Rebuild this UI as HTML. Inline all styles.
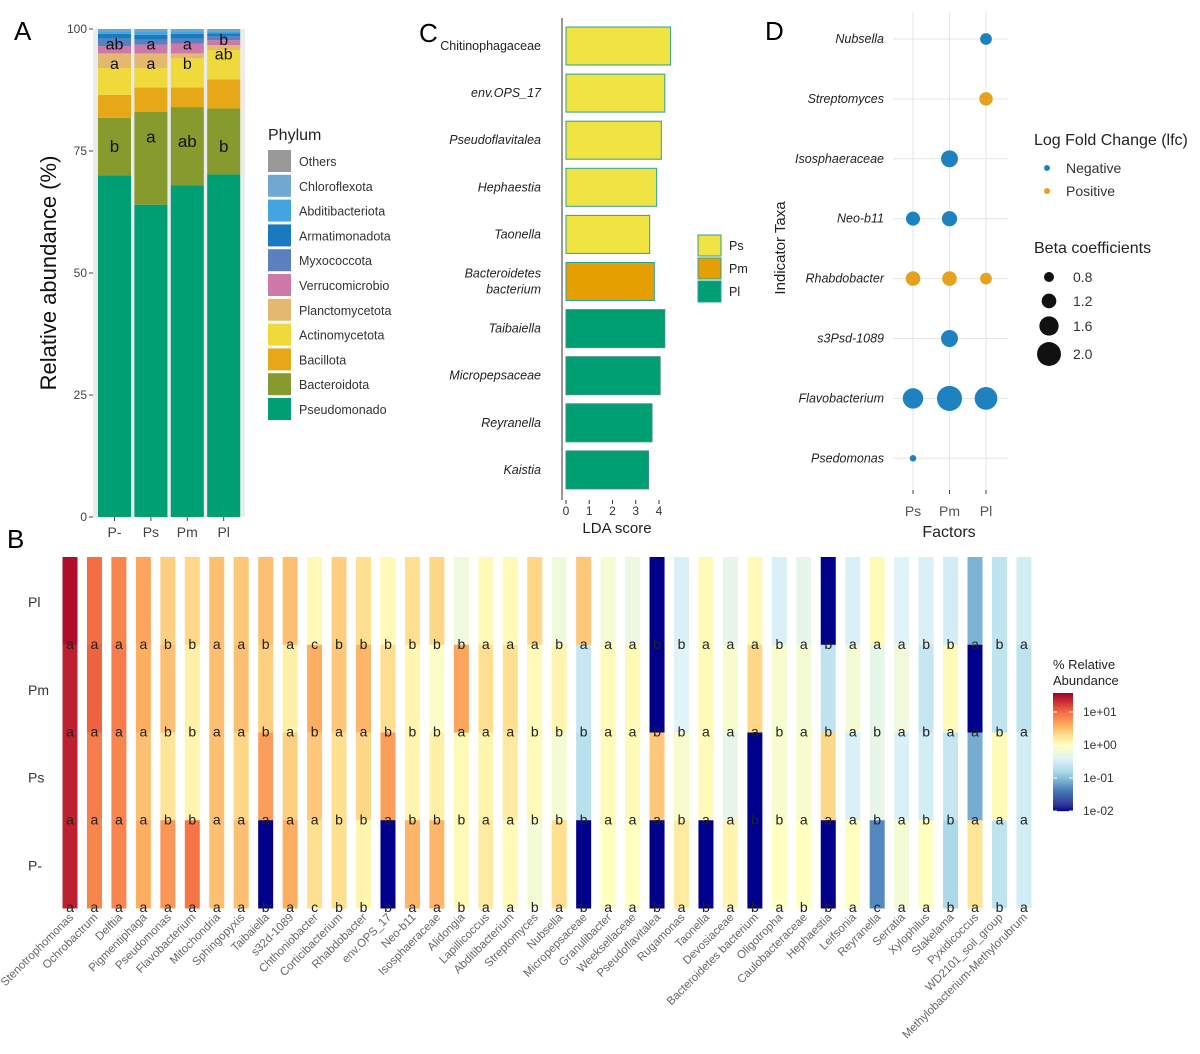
<!DOCTYPE html>
<html><head><meta charset="utf-8"><style>
body{margin:0;background:#fff;}
svg{display:block;font-family:"Liberation Sans",Arial,sans-serif;}
</style></head><body>
<svg id="s" width="1200" height="1054" viewBox="0 0 1200 1054">
<rect width="1200" height="1054" fill="#fff"/>
<text x="14" y="40" font-size="26">A</text>
<text x="7" y="548" font-size="26">B</text>
<text x="419" y="42" font-size="26">C</text>
<text x="765" y="40" font-size="26">D</text>
<g id="A"></g>
<g id="B"></g>
<g id="C"></g>
<g id="D"></g>
</svg>
<script>
const NS="http://www.w3.org/2000/svg";
function mk(p,t,a,txt){const e=document.createElementNS(NS,t);for(const k in a)e.setAttribute(k,a[k]);if(txt!==undefined)e.textContent=txt;p.appendChild(e);return e;}

// ---------- Panel A data ----------
const aGroups=["P-","Ps","Pm","Pl"];
const aPhyla=["Pseudomonadota","Bacteroidota","Bacillota","Actinomycetota","Planctomycetota","Verrucomicrobio","Myxococcota","Armatimonadota","Abditibacteriota","Chloroflexota","Others"];
const aColors=["#009e73","#869a2e","#e6a817","#efd93b","#e3b86f","#cc79a7","#5b7fbf","#1a7abf","#42a5e0","#6fa8d0","#999999"];
const aPseudo=[70,64,68,70.2];
const aBacteroid=[11.8,19,16,13.5];
const aBacillota=[4.7,5,4,6];
const aActino=[5.5,4,6,6];
const aPlancto=[3,3,1,1];
const aVerru=[1.5,1.8,2,1];
const aMyxo=[1.5,1,1,0.8];
const aArmat=[1,1,1,0.6];
const aAbdit=[0.5,0.7,0.5,0.4];
const aChloro=[0.3,0.3,0.3,0.3];
const aOthers=[0.2,0.2,0.2,0.2];
const aSeries=[aPseudo,aBacteroid,aBacillota,aActino,aPlancto,aVerru,aMyxo,aArmat,aAbdit,aChloro,aOthers];
const aTicks=[0,25,50,75,100];
const aLetters=[["b","a","ab","b"],["a","a","b","ab"],["ab","a","a","b"]];
const aLetterY=[[76,78,77,76],[93,93,93,95],[97,97,97,98]];

(function(){
 const g=document.getElementById("A");
 const y=v=>517-v*4.88;
 const bx=i=>98+i*36.4, bw=33;
 mk(g,"rect",{x:93,y:29,width:152,height:488,fill:"#ebebeb"});
 aTicks.forEach(t=>{mk(g,"line",{x1:89,x2:93,y1:y(t),y2:y(t),stroke:"#444"});
   const e=mk(g,"text",{x:87,y:y(t)+4,"text-anchor":"end","font-size":12,fill:"#444"},t);
   });
 aGroups.forEach((gr,i)=>{
   let cum=0;
   aSeries.forEach((s,k)=>{const r=mk(g,"rect",{x:bx(i),y:y(cum+s[i]),width:bw,height:s[i]*4.88,fill:aColors[k]});
     cum+=s[i];});
   mk(g,"line",{x1:bx(i)+bw/2,x2:bx(i)+bw/2,y1:517,y2:521,stroke:"#444"});
   const t=mk(g,"text",{x:bx(i)+bw/2,y:537,"text-anchor":"middle","font-size":14,fill:"#444"},gr);
   
   aLetters.forEach((L,j)=>{const e=mk(g,"text",{x:bx(i)+bw/2,y:y(aLetterY[j][i])+6,"text-anchor":"middle","font-size":j==0?17:16,fill:"#111"},L[i]);
     });
 });
 const yt=mk(g,"text",{x:0,y:0,transform:"translate(56,273) rotate(-90)","text-anchor":"middle","font-size":22,fill:"#111"},"Relative abundance (%)");
 
 const lt=mk(g,"text",{x:268,y:140,"font-size":16,fill:"#222"},"Phylum");
 
 const legOrder=["Others","Chloroflexota","Abditibacteriota","Armatimonadota","Myxococcota","Verrucomicrobio","Planctomycetota","Actinomycetota","Bacillota","Bacteroidota","Pseudomonado"];
 legOrder.forEach((n,i)=>{const k=10-i;
   const r=mk(g,"rect",{x:268,y:150+i*24.8,width:23,height:22,fill:aColors[k]});
   
   const t=mk(g,"text",{x:299,y:166+i*24.8,"font-size":12.5,fill:"#333"},n);
   });
})();

// ---------- Panel B data ----------
const bTaxa=["Stenotrophomonas","Ochrobactrum","Delftia","Pigmentiphaga","Pseudomonas","Flavobacterium","Mitochondria","Sphingopyxis","Taibaiella","s32d-1089","Chthoniobacter","Corticibacterium","Rhabdobacter","env.OPS_17","Neo-b11","Isosphaeraceae","Alidongia","Lapillicoccus","Abditibacterium","Streptomyces","Nubsella","Micropepsaceae","Granulibacter","Weeksellaceae","Pseudoflavitalea","Rugamonas","Taonella","Devosiaceae","Bacteroidetes bacterium","Oligotropha","Caulobacteraceae","Hephaestia","Leifsonia","Reyranella","Serratia","Xylophilus","Stakelama","Pyxidicoccus","WD2101_soil_group","Methylobacterium-Methylorubrum"];
const bRows=["Pl","Pm","Ps","P-"];
const bPl=[1.5,1.0,0.85,0.65,0.4,0.35,0.5,0.45,0.5,0.5,0.05,0.4,0.3,0.05,0.3,0.35,-0.2,0.05,0.05,0.35,-0.2,0.45,-0.15,-0.25,-2,-0.45,0.05,-0.3,0.05,-0.45,-0.3,-2,-0.45,0.05,-0.4,-0.45,-0.5,-1.05,-0.65,-0.5];
const bPm=[1.4,1.05,0.9,0.6,0.5,0.15,0.5,0.5,0.4,0.15,0.6,0.45,0.55,0.3,0.1,-0.05,0.65,0.3,0.3,0.05,0.1,-0.6,0.05,0.05,-2,-0.4,0.05,-0.1,0.35,-0.1,-0.15,-0.65,-0.15,-0.3,-0.2,-0.6,0.05,-2,-0.65,-0.65];
const bPs=[1.4,0.9,0.85,0.5,0.25,0.1,0.5,0.35,0.7,0.4,0.45,0.3,0.35,0.7,0.1,0.15,0.05,0.1,0.2,0.05,-0.15,-0.7,0.05,0.05,0.45,-0.1,0.05,-0.3,-2,-0.1,-0.1,0.35,-0.45,-0.3,-0.45,-0.5,-0.6,-1.1,0.05,-0.5];
const bPn=[1.4,0.85,0.85,0.6,0.75,0.95,0.5,0.5,-2,0.6,0.3,0.3,0.1,-2,0.55,0.55,0.05,0.2,0.05,-0.15,0.3,-2,0.0,0.0,-2,0.2,-2,0.1,-2,0.0,0.0,-2,0.0,-1.3,-0.15,0.0,-0.8,0.25,-0.65,-0.5];
const bVals=[bPl,bPm,bPs,bPn];
const bLetPl="aaaabbaabacbbbbbbaaab"+"aaabbaaababaaabbaba";
const bLetPm="aaaabbaababaabbbaaabb"+"baabbaaababababaaba";
const bLetPs="aaaabbaaaaabbabbbaabb"+"baaabaabbaaababbaaa";
const bLetPn="aaaaaaaabacbbbaabaaba"+"baababababbacaababa";
const bLetters=[bLetPl,bLetPm,bLetPs,bLetPn];
const bScaleTicks=[["1e+01",1],["1e+00",0],["1e-01",-1],["1e-02",-2]];

const stops=[[1.57,[165,0,38]],[1.0,[244,109,67]],[0.6,[253,174,97]],[0.3,[254,224,144]],[0,[255,255,191]],[-0.4,[224,243,248]],[-0.8,[171,217,233]],[-1.1,[116,173,209]],[-1.4,[69,117,180]],[-1.8,[49,54,149]],[-2,[0,0,139]]];
function col(v){if(v>=stops[0][0])return "rgb("+stops[0][1]+")";
 for(let i=0;i<stops.length-1;i++){const [a,ca]=stops[i],[b,cb]=stops[i+1];
  if(v<=a&&v>=b){const t=(a-v)/(a-b);return "rgb("+ca.map((c,j)=>Math.round(c+(cb[j]-c)*t)).join(",")+")";}}
 return "rgb(0,0,139)";}

(function(){
 const g=document.getElementById("B");
 const cx=i=>70+i*24.46;
 const top=557,rh=87.75,cw=15;
 bRows.forEach((r,j)=>{const t=mk(g,"text",{x:28,y:top+rh*j+50,"font-size":14,fill:"#333"},r);
   });
 bTaxa.forEach((n,i)=>{
   bVals.forEach((arr,j)=>{const r=mk(g,"rect",{x:cx(i)-cw/2,y:top+rh*j,width:cw,height:rh+0.5,fill:col(arr[i])});
     });
   const t=mk(g,"text",{x:0,y:0,transform:`translate(${cx(i)+4},918) rotate(-45)`,"text-anchor":"end","font-size":11.5,fill:"#666"},n);
   
 });
 bTaxa.forEach((n,i)=>{
   bLetters.forEach((L,j)=>{const l=mk(g,"text",{x:cx(i),y:top+rh*(j+1)+4,"text-anchor":"middle","font-size":14,fill:"#222"},L[i]);
     });
 });
 const lt=mk(g,"text",{x:1053,y:669,"font-size":13,fill:"#222"},"% Relative");
 
 mk(g,"text",{x:1053,y:685,"font-size":13,fill:"#222"},"Abundance");
 const sy=v=>745-v*33;
 for(let k=0;k<118;k++){const v=1.57-k*(3.57/118);mk(g,"rect",{x:1053,y:693+k,width:20,height:1.2,fill:col(v)});}
 bScaleTicks.forEach(([lab,v])=>{mk(g,"line",{x1:1053,x2:1057,y1:sy(v),y2:sy(v),stroke:"#fff"});mk(g,"line",{x1:1069,x2:1073,y1:sy(v),y2:sy(v),stroke:"#fff"});
   const t=mk(g,"text",{x:1083,y:sy(v)+4,"font-size":12,fill:"#333"},lab);});
})();

// ---------- Panel C data ----------
const cTaxa=["Chitinophagaceae","env.OPS_17","Pseudoflavitalea","Hephaestia","Taonella","Bacteroidetes bacterium","Taibaiella","Micropepsaceae","Reyranella","Kaistia"];
const cLDA=[4.5,4.25,4.1,3.9,3.6,3.8,4.25,4.05,3.7,3.55];
const cGroup=["Ps","Ps","Ps","Ps","Ps","Pm","Pl","Pl","Pl","Pl"];
const cTicks=[0,1,2,3,4];
(function(){
 const g=document.getElementById("C");
 const fill={Ps:"#f0e442",Pm:"#e69f00",Pl:"#009e73"};
 const x=v=>566+v*23.25, yc=i=>46+i*47.1;
 mk(g,"line",{x1:562,x2:562,y1:18,y2:500,stroke:"#333"});
 cTaxa.forEach((n,i)=>{
   const r=mk(g,"rect",{x:x(0),y:yc(i)-19,width:x(cLDA[i])-x(0),height:38,fill:fill[cGroup[i]],stroke:cGroup[i]=="Pl"?"#3a8f8a":"#2aa198","stroke-width":1});
   
   const parts=n=="Bacteroidetes bacterium"?["Bacteroidetes","bacterium"]:[n];
   parts.forEach((p,k)=>{const t=mk(g,"text",{x:541,y:yc(i)+4+(parts.length>1?(k-0.5)*16:0),"text-anchor":"end","font-size":12.5,"font-style":n=="Chitinophagaceae"?"normal":"italic",fill:"#222"},p);
     });
 });
 cTicks.forEach(v=>{mk(g,"line",{x1:x(v),x2:x(v),y1:500,y2:504,stroke:"#333"});
   const t=mk(g,"text",{x:x(v),y:515,"text-anchor":"middle","font-size":12,fill:"#333"},v);});
 const xt=mk(g,"text",{x:617,y:533,"text-anchor":"middle","font-size":15,fill:"#222"},"LDA score");
 
 ["Ps","Pm","Pl"].forEach((k,i)=>{const r=mk(g,"rect",{x:698,y:235+i*23,width:23,height:21,fill:fill[k],stroke:"#2aa198"});
   
   const t=mk(g,"text",{x:729,y:250+i*23,"font-size":12.5,fill:"#222"},k);});
})();

// ---------- Panel D data ----------
const dTaxa=["Nubsella","Streptomyces","Isosphaeraceae","Neo-b11","Rhabdobacter","s3Psd-1089","Flavobacterium","Psedomonas"];
const dFactors=["Ps","Pm","Pl"];
const dPointTaxon=[0,1,2,3,3,4,4,4,5,6,6,6,7];
const dPointFactor=[2,2,1,0,1,0,1,2,1,0,1,2,0];
const dBeta=[0.95,1.1,1.4,1.15,1.25,1.2,1.2,0.95,1.4,1.7,2.1,1.9,0.5];
const dSign=[-1,1,-1,-1,-1,1,1,1,-1,-1,-1,-1,-1];
const dBetaLegend=[0.8,1.2,1.6,2.0];
(function(){
 const g=document.getElementById("D");
 const x=i=>913+i*36.5, y=i=>39+i*59.9, r=b=>Math.max(2.5,5+(b-0.8)*5.8);
 dFactors.forEach((f,i)=>{mk(g,"line",{x1:x(i),x2:x(i),y1:12,y2:490,stroke:"#e6e6e6"});
   mk(g,"line",{x1:x(i),x2:x(i),y1:490,y2:494,stroke:"#444"});
   const t=mk(g,"text",{x:x(i),y:516,"text-anchor":"middle","font-size":14,fill:"#555"},f);});
 dTaxa.forEach((n,i)=>{mk(g,"line",{x1:893,x2:1008,y1:y(i),y2:y(i),stroke:"#e6e6e6"});
   const t=mk(g,"text",{x:884,y:y(i)+4,"text-anchor":"end","font-size":12.5,"font-style":"italic",fill:"#222"},n);});
 dBeta.forEach((b,k)=>{const c=mk(g,"circle",{cx:x(dPointFactor[k]),cy:y(dPointTaxon[k]),r:r(b),fill:dSign[k]<0?"#1f82c0":"#e6a21e"});
   });
 const yt=mk(g,"text",{x:0,y:0,transform:"translate(785,248) rotate(-90)","text-anchor":"middle","font-size":15,fill:"#222"},"Indicator Taxa");
 
 const xt=mk(g,"text",{x:949,y:537,"text-anchor":"middle","font-size":16,fill:"#222"},"Factors");
 
 const l1=mk(g,"text",{x:1034,y:145,"font-size":16,fill:"#222"},"Log Fold Change (lfc)");
 [["Negative","#1f82c0"],["Positive","#e6a21e"]].forEach(([n,c],i)=>{mk(g,"circle",{cx:1047,cy:168+i*23,r:3,fill:c});
   const t=mk(g,"text",{x:1066,y:173+i*23,"font-size":14,fill:"#333"},n);});
 const l2=mk(g,"text",{x:1034,y:253,"font-size":16,fill:"#222"},"Beta coefficients");
 const ly=[277,301,326,354];
 dBetaLegend.forEach((b,i)=>{mk(g,"circle",{cx:1049,cy:ly[i],r:r(b),fill:"#111"});
   const t=mk(g,"text",{x:1073,y:ly[i]+5,"font-size":14,fill:"#333"},b.toFixed(1));});
})();
</script>
</body></html>
